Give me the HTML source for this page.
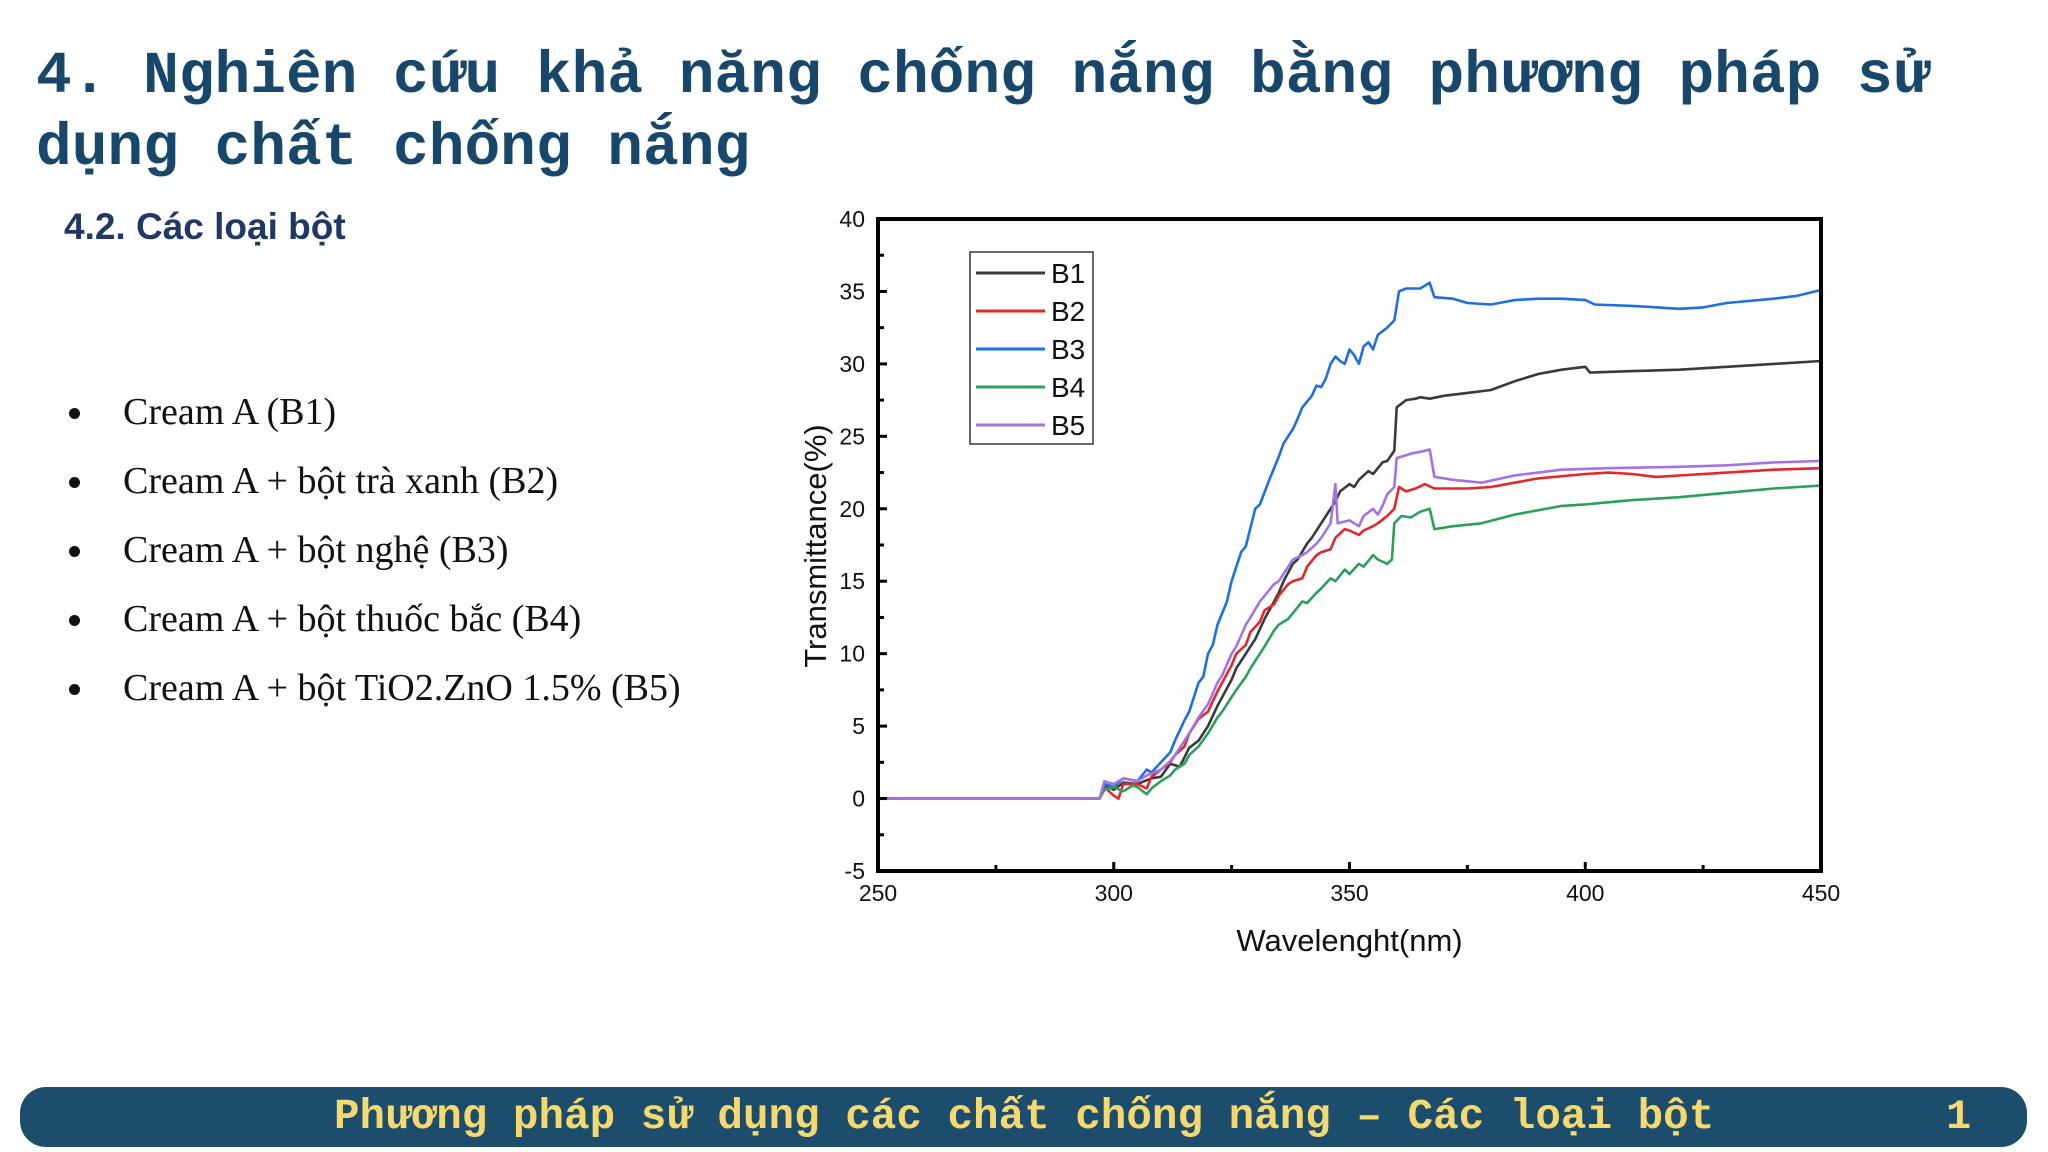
<!DOCTYPE html>
<html><head><meta charset="utf-8">
<style>
html,body{margin:0;padding:0;background:#fff;}
body{width:2048px;height:1152px;position:relative;overflow:hidden;font-family:"Liberation Sans",sans-serif;}
.title{position:absolute;left:36px;top:40px;font-family:"Liberation Mono",monospace;font-weight:bold;font-size:59.5px;line-height:72px;color:#17486b;margin:0;white-space:nowrap;}
.sub{position:absolute;left:64px;top:206px;font-family:"Liberation Sans Narrow","Liberation Sans",sans-serif;font-weight:bold;font-size:37px;color:#1f3864;margin:0;}
ul{position:absolute;left:0;top:386px;margin:0;padding:0;list-style:none;}
li{position:relative;height:69px;font-family:"Liberation Serif",serif;font-size:38px;color:#111;padding-left:123px;line-height:52px;white-space:nowrap;}
li::before{content:"";position:absolute;left:69px;top:22px;width:11px;height:11px;border-radius:50%;background:#111;}
.footer{position:absolute;left:20px;top:1087px;width:2007px;height:60px;background:#1d4d6c;border-radius:26px;}
.ftxt{position:absolute;left:334px;top:1092px;font-family:"Liberation Mono",monospace;font-weight:bold;font-size:42.6px;line-height:50px;color:#f4d971;white-space:nowrap;}
.fnum{position:absolute;left:1946px;top:1092px;font-family:"Liberation Mono",monospace;font-weight:bold;font-size:42px;line-height:50px;color:#f4d971;}
svg{position:absolute;left:0;top:0;}
</style></head>
<body>
<h1 class="title">4. Nghiên cứu khả năng chống nắng bằng phương pháp sử<br>dụng chất chống nắng</h1>
<h2 class="sub">4.2. Các loại bột</h2>
<ul>
<li>Cream A (B1)</li>
<li>Cream A + bột trà xanh (B2)</li>
<li>Cream A + bột nghệ (B3)</li>
<li>Cream A + bột thuốc bắc (B4)</li>
<li>Cream A + bột TiO2.ZnO 1.5% (B5)</li>
</ul>
<svg id="chart" width="2048" height="1152"></svg>
<div class="footer"></div>
<div class="ftxt">Phương pháp sử dụng các chất chống nắng – Các loại bột</div>
<div class="fnum">1</div>
<script>
const seriesNames = ["B1","B2","B3","B4","B5"];
const seriesColors = ["#3a3a3a","#e5262b","#1f6fe0","#2aa05a","#a373e6"];
const xTicks = [250,300,350,400,450];
const yTicks = [-5,0,5,10,15,20,25,30,35,40];
const b1 = [[250,0],[297,0],[298,1],[300,0.6],[302,1.1],[305,1],[308,1.4],[310,1.5],[312,2.4],[314,2.2],[316,3.5],[318,4],[320,5],[322,6.4],[323,7],[325,8.2],[326,9],[328,10],[330,11],[332,12.4],[333,13],[335,14.2],[336,15],[338,16.2],[339,16.5],[341,17.6],[342,18],[344,19],[345,19.5],[347,20.5],[348,21.2],[350,21.7],[351,21.5],[352,22],[354,22.6],[355,22.4],[357,23.2],[358,23.3],[359.5,24],[360,27],[362,27.5],[364,27.6],[365,27.7],[367,27.6],[370,27.8],[375,28],[380,28.2],[385,28.8],[390,29.3],[395,29.6],[400,29.8],[401,29.4],[410,29.5],[420,29.6],[430,29.8],[440,30],[450,30.2]];
const b2 = [[250,0],[297,0],[298,0.8],[300,0.2],[301,0],[302,1],[305,1],[307,0.7],[308,1.5],[310,2],[312,2.5],[313,3],[315,3.6],[316,4.5],[318,5.5],[320,6],[322,7.4],[323,8],[325,9.2],[326,10],[328,10.6],[329,11.5],[331,12.2],[332,13],[334,13.4],[335,14],[337,14.8],[338,15],[340,15.2],[341,16],[343,16.8],[344,17],[346,17.2],[347,18],[349,18.6],[350,18.5],[352,18.2],[353,18.5],[355,18.8],[356,19],[358,19.5],[359.5,20],[360.5,21.5],[362,21.2],[364,21.4],[366,21.7],[368,21.4],[375,21.4],[380,21.5],[385,21.8],[390,22.1],[400,22.4],[405,22.5],[410,22.4],[415,22.2],[420,22.3],[430,22.5],[440,22.7],[450,22.8]];
const b3 = [[250,0],[297,0],[298,1],[300,0.8],[302,1.4],[305,1.2],[307,2],[308,1.8],[310,2.5],[312,3.2],[313,4],[315,5.4],[316,6],[318,8],[319,8.4],[320,10],[321,10.6],[322,12],[324,13.6],[325,15],[327,17],[328,17.4],[330,20],[331,20.3],[333,22],[335,23.6],[336,24.5],[338,25.5],[339,26.2],[340,27],[342,27.8],[343,28.5],[344,28.4],[345,29],[346,30],[347,30.5],[348,30.2],[349,30],[350,31],[351,30.6],[352,30],[353,31.2],[354,31.5],[355,31],[356,32],[358,32.5],[359.5,33],[360.5,35],[362,35.2],[365,35.2],[367,35.6],[368,34.6],[372,34.5],[375,34.2],[380,34.1],[385,34.4],[390,34.5],[395,34.5],[400,34.4],[402,34.1],[410,34],[420,33.8],[425,33.9],[430,34.2],[440,34.5],[445,34.7],[450,35.1]];
const b4 = [[250,0],[297,0],[298,0.6],[300,0.8],[302,0.5],[304,0.9],[305,0.8],[307,0.3],[308,0.7],[310,1.2],[312,1.6],[313,2],[315,2.4],[316,3],[318,3.6],[320,4.5],[322,5.6],[323,6],[325,7],[326,7.5],[328,8.4],[329,9],[331,10],[332,10.5],[334,11.6],[335,12],[337,12.4],[338,12.8],[340,13.6],[341,13.5],[343,14.2],[344,14.5],[346,15.2],[347,15],[349,15.8],[350,15.5],[352,16.2],[353,16],[355,16.8],[356,16.5],[358,16.2],[359,16.5],[359.5,19],[361,19.5],[363,19.4],[365,19.8],[367,20],[368,18.6],[372,18.8],[378,19],[385,19.6],[395,20.2],[400,20.3],[410,20.6],[420,20.8],[430,21.1],[440,21.4],[450,21.6]];
const b5 = [[250,0],[297,0],[298,1.2],[300,1],[302,1.4],[305,1.2],[307,1.6],[310,2],[312,2.6],[313,3],[315,4],[316,4.5],[318,5.6],[320,6.5],[322,8],[323,8.5],[325,10],[326,10.5],[328,12],[329,12.5],[331,13.6],[332,14],[334,14.8],[335,15],[337,16],[338,16.5],[340,16.8],[341,17],[343,17.6],[344,18],[346,19],[347,21.7],[347.5,19],[350,19.2],[352,18.8],[353,19.5],[355,20],[356,19.6],[357,20.2],[358,21],[359.5,21.5],[360,23.5],[363,23.8],[366,24],[367,24.1],[368,22.2],[372,22],[378,21.8],[385,22.3],[395,22.7],[405,22.8],[420,22.9],[430,23],[440,23.2],[450,23.3]];
const seriesData = [b1,b2,b3,b4,b5];

const NS="http://www.w3.org/2000/svg";
const svg=document.getElementById('chart');
const X0=878,X1=1821,Y0=871,Y1=219;
const xS=v=>X0+(v-250)/200*(X1-X0);
const yS=v=>Y0-(v+5)/45*(Y0-Y1);
function mk(tag,attrs,parent){const e=document.createElementNS(NS,tag);for(const k in attrs)e.setAttribute(k,attrs[k]);(parent||svg).appendChild(e);return e;}

seriesData.forEach((d,i)=>{
  const p=mk('polyline',{points:d.map(q=>xS(q[0]).toFixed(1)+','+yS(q[1]).toFixed(1)).join(' '),fill:'none',stroke:seriesColors[i],'stroke-width':2.6,'stroke-linejoin':'round'});
  
  
});
const fr=mk('rect',{x:X0,y:Y1,width:X1-X0,height:Y0-Y1,fill:'none',stroke:'#000','stroke-width':4});


xTicks.forEach(v=>{
  mk('line',{x1:xS(v),x2:xS(v),y1:Y0,y2:Y0-9,stroke:'#000','stroke-width':3});
  const t=mk('text',{x:xS(v),y:Y0+30,'text-anchor':'middle','font-size':23,'font-family':'Liberation Sans, sans-serif',fill:'#111'});
  t.textContent=v;
  
  
});
for(let v=275;v<450;v+=50){mk('line',{x1:xS(v),x2:xS(v),y1:Y0,y2:Y0-6,stroke:'#000','stroke-width':3});}
yTicks.forEach(v=>{
  mk('line',{x1:X0,x2:X0+9,y1:yS(v),y2:yS(v),stroke:'#000','stroke-width':3});
  const t=mk('text',{x:X0-13,y:yS(v)+8,'text-anchor':'end','font-size':23,'font-family':'Liberation Sans, sans-serif',fill:'#111'});
  t.textContent=v;
  
  
});
for(let v=-2.5;v<40;v+=5){mk('line',{x1:X0,x2:X0+6,y1:yS(v),y2:yS(v),stroke:'#000','stroke-width':3});}
const xt=mk('text',{x:(X0+X1)/2,y:951,'text-anchor':'middle','font-size':31,'font-family':'Liberation Sans, sans-serif',fill:'#111'});
xt.textContent='Wavelenght(nm)';


const yt=mk('text',{x:0,y:0,'text-anchor':'middle','font-size':31,'font-family':'Liberation Sans, sans-serif',fill:'#111',transform:'translate(826,546) rotate(-90)'});
yt.textContent='Transmittance(%)';


const lg=mk('rect',{x:970,y:252,width:123,height:192,fill:'#fff',stroke:'#333','stroke-width':1.5});


seriesNames.forEach((n,i)=>{
  const y=273+i*38;
  mk('line',{x1:976,x2:1045,y1:y,y2:y,stroke:seriesColors[i],'stroke-width':3});
  const t=mk('text',{x:1051,y:y+10,'font-size':28,'font-family':'Liberation Sans, sans-serif',fill:'#111'});
  t.textContent=n;
  
  
});
</script>
</body></html>
